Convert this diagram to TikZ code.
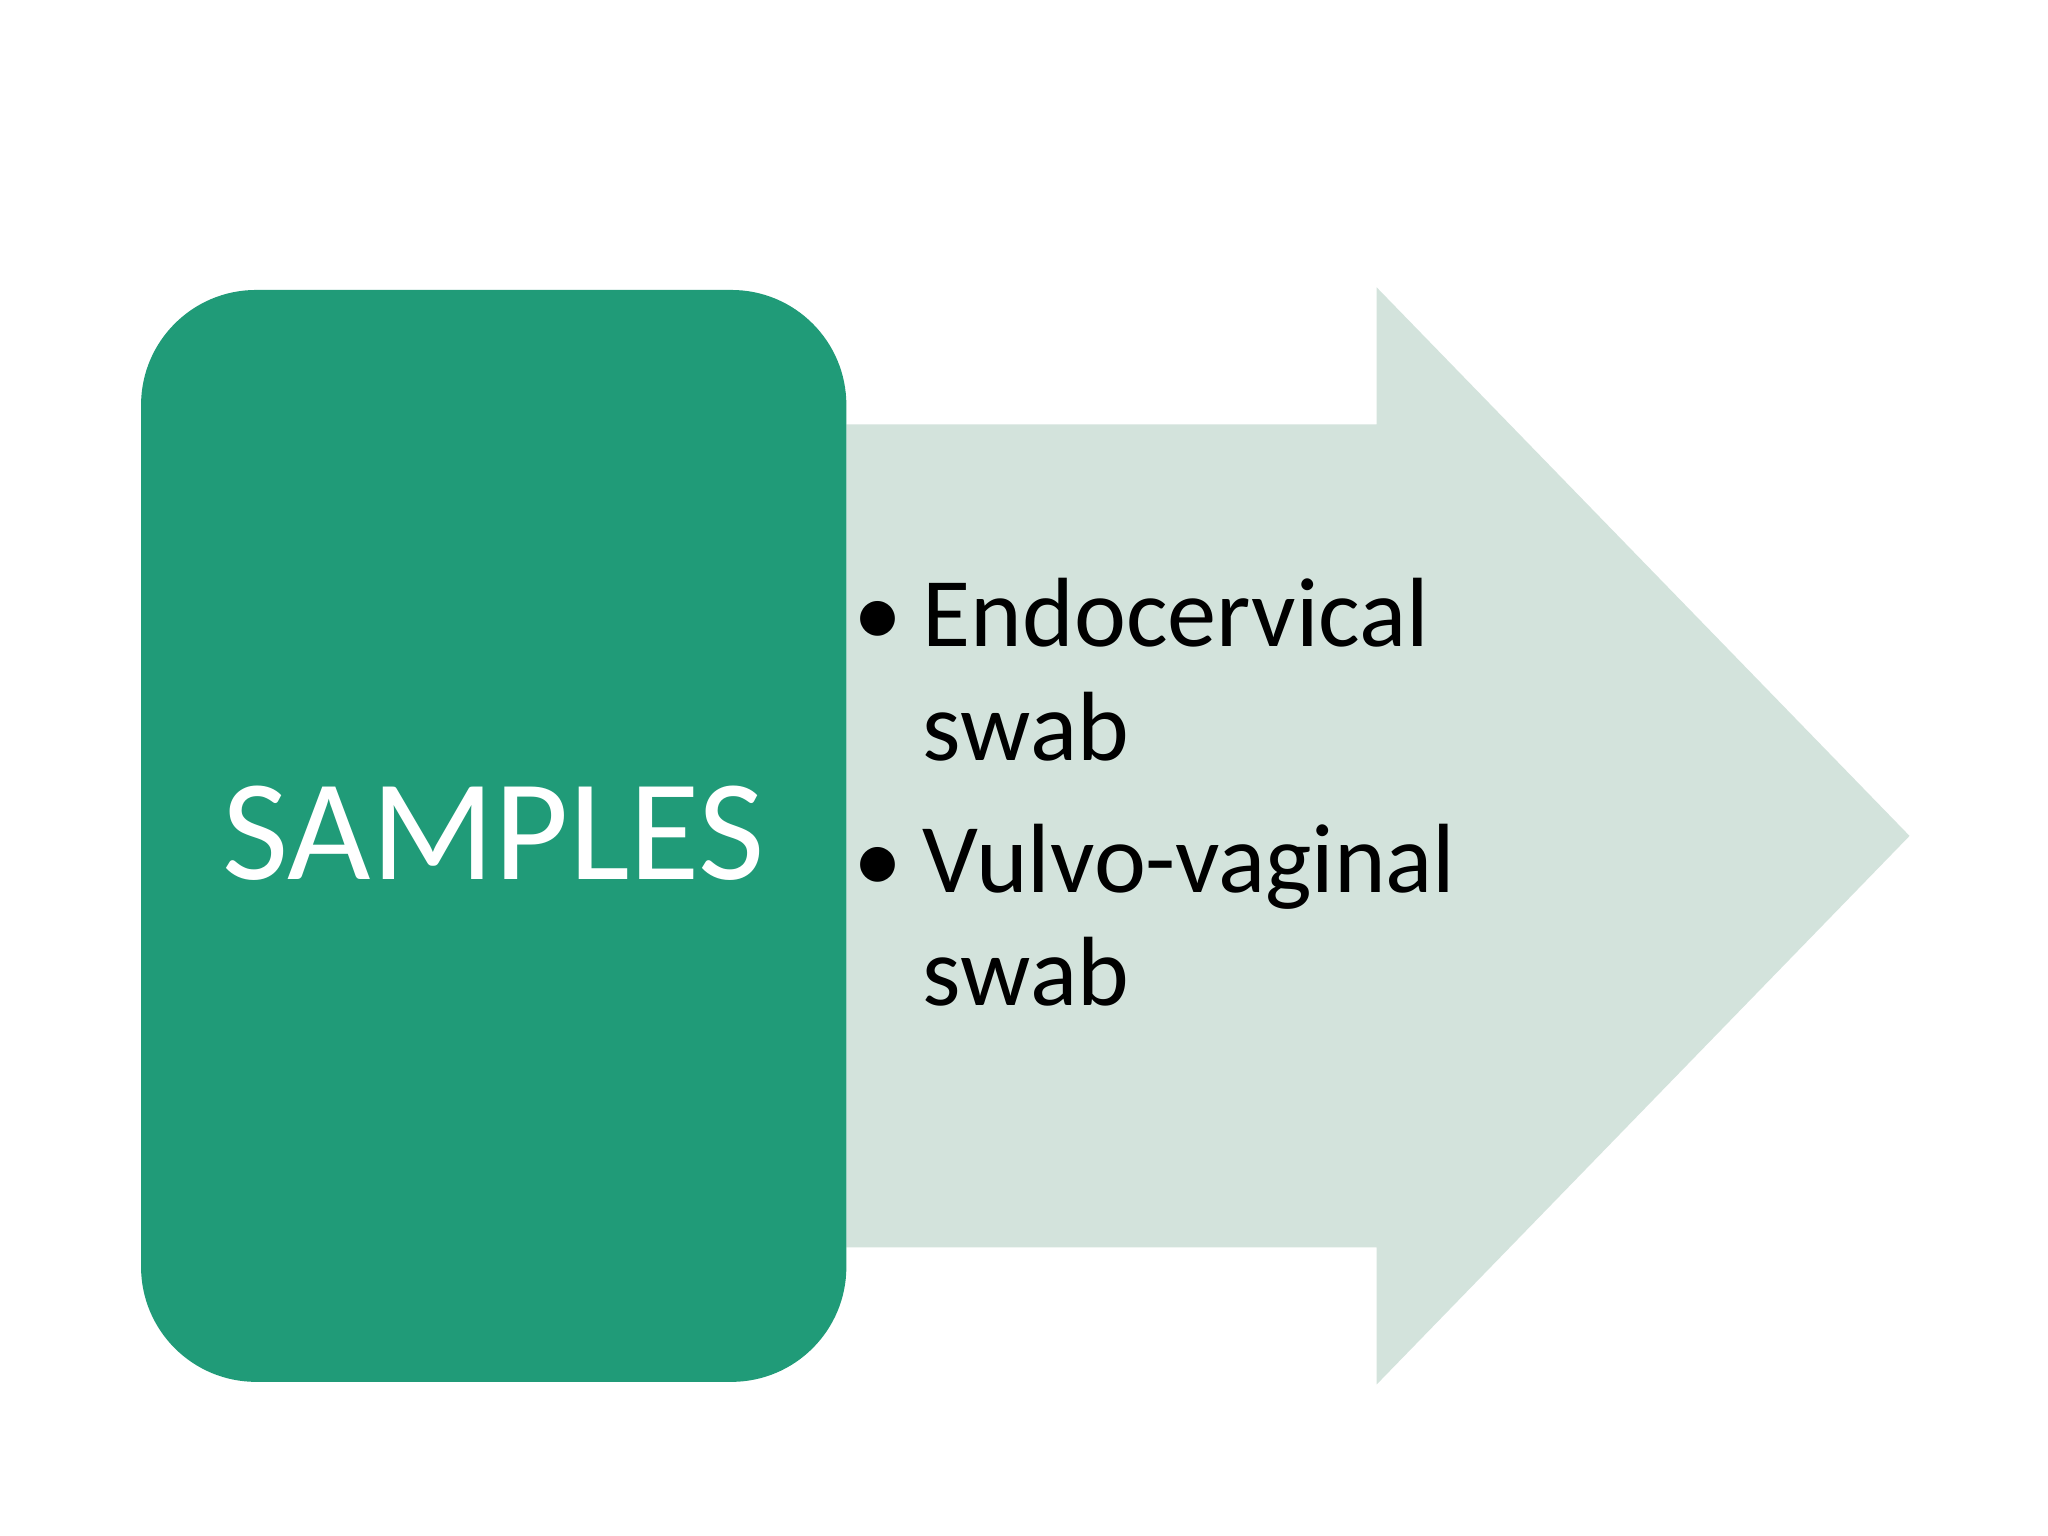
\documentclass[tikz,border=0pt]{standalone}
\usepackage{fontspec}
\setmainfont{Carlito}
\definecolor{samplegreen}{HTML}{209B78}
\definecolor{arrowgrey}{HTML}{D3E3DC}
\tikzset{
  itemtext/.style={anchor=base west, inner sep=0pt, font=\fontsize{28}{32}\selectfont, align=left},
  dot/.style={anchor=base, inner sep=0pt, font=\fontsize{28}{32}\selectfont}
}
\begin{document}
\begin{tikzpicture}[x=0.01306cm, y=-0.01306cm]
\useasboundingbox (0,0) rectangle (1568,1176);
\fill[white] (0,0) rectangle (1568,1176);

% arrow
\fill[arrowgrey] (648,325) -- (1054,325) -- (1054,220) -- (1462,640)
  -- (1054,1060) -- (1054,955) -- (648,955) -- cycle;

% box
\fill[samplegreen, rounded corners=1.15cm] (108,222) rectangle (648,1058);
\node[text=white, font=\fontsize{41}{48}\selectfont] (samples) at (378,638) {SAMPLES};

% items
\node[dot] (b1) at (672,495) {\textbullet};
\node[itemtext] (endo) at (706,495) {Endocervical};
\node[itemtext] (swab1) at (706,582) {swab};
\node[dot] (b2) at (672,683) {\textbullet};
\node[itemtext] (vulvo) at (706,683) {Vulvo-vaginal};
\node[itemtext] (swab2) at (706,770) {swab};
\end{tikzpicture}
\end{document}
